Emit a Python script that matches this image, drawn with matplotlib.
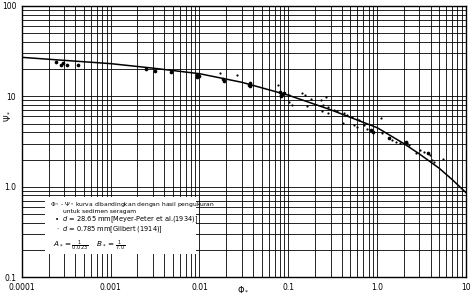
import matplotlib
matplotlib.use("Agg")
import matplotlib.pyplot as plt
from matplotlib.patches import Rectangle

# Einstein Phi*-Psi* curve
curve_phi = [1e-4, 3e-4, 1e-3, 3e-3, 1e-2, 3e-2, 0.1, 0.3, 1.0, 2.0, 3.0, 5.0, 7.0, 10.0]
curve_psi = [27.0, 25.0, 23.0, 20.5, 17.8, 14.3, 10.3, 7.1, 4.5, 3.0, 2.3, 1.6, 1.2, 0.86]

# Meyer-Peter et al. (1934), d = 28.65 mm
mp_phi = [2.40e-4, 2.74e-4, 2.92e-4, 3.20e-4, 4.32e-4, 2.49e-3, 3.17e-3, 4.76e-3,
          9.38e-3, 9.38e-3, 9.8e-3, 0.0182, 0.0187, 0.0367, 0.0374, 0.0364,
          0.0817, 0.0860, 0.0838, 0.0884, 0.082, 0.85, 0.91, 1.35, 2.10, 3.7]
mp_psi = [24.0, 22.1, 23.2, 22.2, 22.4, 19.9, 19.2, 18.5,
          17.3, 16.3, 16.8, 15.5, 14.9, 14.0, 13.0, 13.4,
          11.2, 10.6, 10.1, 10.9, 10.4, 4.25, 4.07, 3.47, 3.15, 2.35]

# Gilbert (1914), d = 0.785 mm
gb_phi = [0.0172, 0.0265, 0.0774, 0.103, 0.111, 0.101, 0.144, 0.156, 0.178, 0.163,
          0.231, 0.263, 0.247, 0.283, 0.241, 0.283, 0.324, 0.357, 0.42, 0.46,
          0.41, 0.526, 0.60, 0.60, 0.55, 0.62, 0.71, 0.77, 1.10, 1.14,
          1.47, 1.65, 1.83, 2.18, 2.27, 2.73, 3.07, 3.34, 3.99, 4.2, 5.46, 4.4]
gb_psi = [18.0, 17.3, 13.4, 10.4, 8.0, 8.7, 10.8, 10.4, 9.3, 7.8,
          9.1, 9.9, 8.0, 7.7, 6.8, 6.6, 7.1, 6.8, 6.5, 6.2,
          5.1, 5.9, 5.6, 4.6, 4.8, 5.5, 4.8, 4.3, 5.7, 3.9,
          3.3, 3.15, 3.03, 3.03, 2.90, 2.35, 2.55, 2.45, 2.25, 1.98, 2.01, 1.9]

x_ticks = [1e-4, 1e-3, 1e-2, 1e-1, 1.0, 10.0]
x_ticklabels = ["0.0001", "0.001", "0.01", "0.1", "1.0", "10"]
y_ticks = [0.1, 1.0, 10.0, 100.0]
y_ticklabels = ["0.1", "1.0", "10", "100"]

fig = plt.figure(figsize=(4.74, 2.97), dpi=100)
ax = fig.add_axes([0.046, 0.067, 0.937, 0.913])
ax.set_xscale("log")
ax.set_yscale("log")
ax.set_xlim(1e-4, 10)
ax.set_ylim(0.1, 100)
ax.set_axisbelow(True)
ax.grid(True, which="both", color="black", linewidth=0.6)

ax.set_xticks(x_ticks)
ax.set_xticklabels(x_ticklabels)
ax.set_yticks(y_ticks)
ax.set_yticklabels(y_ticklabels)
ax.tick_params(which="both", length=0, labelsize=5.5, pad=4)
for s in ax.spines.values():
    s.set_color("black")
    s.set_linewidth(1.0)

ax.plot(curve_phi, curve_psi, color="black", linewidth=1.1, zorder=3)
ax.scatter(mp_phi, mp_psi, s=7, color="black", zorder=4, linewidths=0)
ax.scatter(gb_phi, gb_psi, s=2.5, color="black", zorder=4, linewidths=0)

# legend box
ax.add_patch(Rectangle((0.052, 0.085), 0.34, 0.21, transform=ax.transAxes,
                       facecolor="white", edgecolor="none", zorder=2))
ax.text(0.063, 0.268, r"$\Phi_*$ - $\Psi_*$ kurva dibandingkan dengan hasil pengukuran",
        transform=ax.transAxes, fontsize=4.3, va="center", zorder=5)
ax.text(0.093, 0.242, "untuk sedimen seragam", transform=ax.transAxes,
        fontsize=4.3, va="center", zorder=5)
ax.text(0.073, 0.211, r"$\bullet$  $d$ = 28.65 mm[Meyer-Peter et al.(1934)]",
        transform=ax.transAxes, fontsize=4.8, va="center", zorder=5)
ax.text(0.077, 0.173, r"$\cdot$  $d$ = 0.785 mm[Gilbert (1914)]",
        transform=ax.transAxes, fontsize=4.8, va="center", zorder=5)
ax.text(0.071, 0.116, r"$A_* = \frac{1}{0.023}$    $B_* = \frac{1}{7.0}$",
        transform=ax.transAxes, fontsize=5.2, va="center", zorder=5)

fig.text(0.016, 0.61, r"$\Psi_*$", fontsize=6, rotation=90, va="center", ha="center")
fig.text(0.500, 0.025, r"$\Phi_*$", fontsize=6, va="center", ha="left")

fig.savefig("out.png", dpi=100)
